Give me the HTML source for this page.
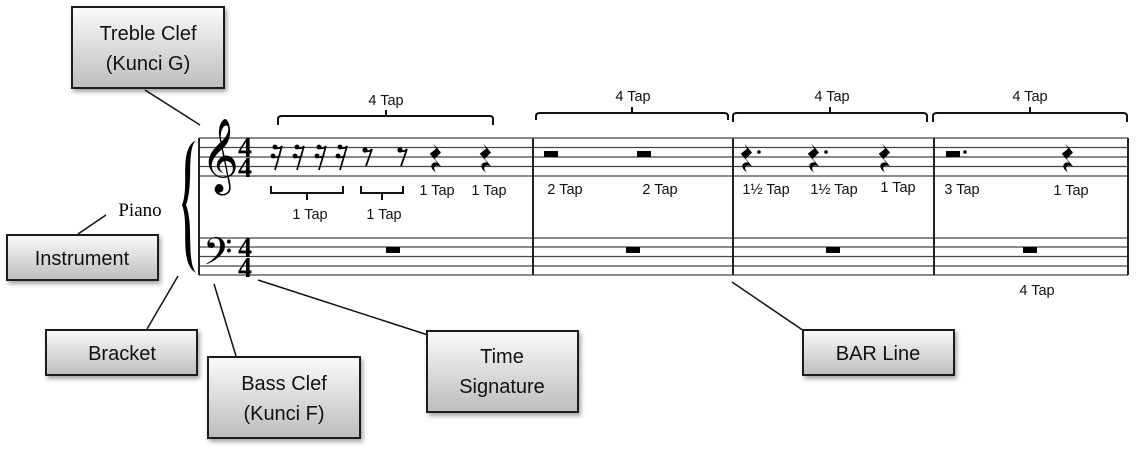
<!DOCTYPE html>
<html><head><meta charset="utf-8"><style>
html,body{margin:0;padding:0;background:#fff;}
svg{display:block;}
.box{fill:url(#g);stroke:#1a1a1a;stroke-width:2;filter:url(#sh);}
.bt{font-family:"Liberation Sans",sans-serif;font-size:20px;fill:#111;text-anchor:middle;}
.t{font-family:"Liberation Sans",sans-serif;font-size:14.5px;fill:#111;text-anchor:middle;}
.st line{stroke:#444;stroke-width:1.3;}
.ln{stroke:#111;stroke-width:1.5;fill:none;}
.br{stroke:#111;stroke-width:2;fill:none;}
</style></head><body>
<svg width="1139" height="452" viewBox="0 0 1139 452">
<defs>
<linearGradient id="g" x1="0" y1="0" x2="0" y2="1"><stop offset="0" stop-color="#fafafa"/><stop offset="1" stop-color="#bdbdbd"/></linearGradient>
<filter id="sh" x="-10%" y="-10%" width="130%" height="140%"><feDropShadow dx="2" dy="3" stdDeviation="2" flood-color="#000" flood-opacity="0.35"/></filter>
<g id="qr"><path d="M2,-9 L8,-2 L3,3 L8,9 C3,7 1,10 4,14 C-2,10 0,5 5,6 L-1,-1 L4,-5 Z" fill="#000"/></g>
<g id="er"><circle cx="0" cy="0" r="2.6" fill="#000"/><path d="M0,1 Q5,2 7,-1 L1,16" stroke="#000" stroke-width="1.8" fill="none"/></g>
<g id="sr"><circle cx="0" cy="-6" r="2.4" fill="#000"/><circle cx="-2" cy="3" r="2.4" fill="#000"/><path d="M0,-5 Q5,-4 7,-7 L0,17 M-2,4 Q3,5 5,2" stroke="#000" stroke-width="1.7" fill="none"/></g>
</defs>

<g class="st">
<line x1="199" y1="138" x2="1128" y2="138"/><line x1="199" y1="147.5" x2="1128" y2="147.5"/><line x1="199" y1="157" x2="1128" y2="157"/><line x1="199" y1="166.5" x2="1128" y2="166.5"/><line x1="199" y1="176" x2="1128" y2="176"/>
<line x1="199" y1="238" x2="1128" y2="238"/><line x1="199" y1="247" x2="1128" y2="247"/><line x1="199" y1="256.5" x2="1128" y2="256.5"/><line x1="199" y1="266" x2="1128" y2="266"/><line x1="199" y1="275" x2="1128" y2="275"/>
</g>
<g stroke="#222" stroke-width="2">
<line x1="199" y1="138" x2="199" y2="275"/><line x1="533" y1="138" x2="533" y2="275"/><line x1="733" y1="138" x2="733" y2="275"/><line x1="934" y1="138" x2="934" y2="275"/><line x1="1128" y1="138" x2="1128" y2="275"/>
</g>
<path d="M196,140 C178,150 190,185 182,205 C190,225 178,262 196,273 C186,260 194,225 186,205 C194,185 186,150 196,140 Z" fill="#000"/>
<text x="140" y="216" font-family="Liberation Serif,serif" font-size="19" text-anchor="middle">Piano</text>
<text x="201" y="177" font-family="DejaVu Sans,serif" font-size="64">𝄞</text>
<text x="203" y="272" font-family="DejaVu Sans,serif" font-size="46">𝄢</text>
<g font-family="Liberation Serif,serif" font-weight="bold" font-size="28" text-anchor="middle">
<text x="245" y="157">4</text><text x="245" y="177">4</text><text x="245" y="257">4</text><text x="245" y="277">4</text>
</g>
<use href="#sr" x="275" y="153"/><use href="#sr" x="297" y="153"/><use href="#sr" x="319" y="153"/><use href="#sr" x="340" y="153"/>
<use href="#er" x="365" y="150"/><use href="#er" x="400" y="150"/>
<use href="#qr" transform="translate(431,155) scale(1.25)"/><use href="#qr" transform="translate(481,155) scale(1.25)"/>
<path class="br" d="M271,186 V193 H343 V186 M307,193 V200 M361,186 V193 H403 V186 M382,193 V200"/>
<text class="t" x="310" y="219">1 Tap</text><text class="t" x="384" y="219">1 Tap</text>
<text class="t" x="437" y="195">1 Tap</text><text class="t" x="489" y="195">1 Tap</text>
<rect x="544" y="151" width="14" height="6" fill="#000"/><rect x="637" y="151" width="14" height="6" fill="#000"/>
<text class="t" x="565" y="194">2 Tap</text><text class="t" x="660" y="194">2 Tap</text>
<use href="#qr" transform="translate(742,155) scale(1.25)"/><circle cx="759" cy="152" r="1.8"/>
<use href="#qr" transform="translate(809,155) scale(1.25)"/><circle cx="826" cy="152" r="1.8"/>
<use href="#qr" transform="translate(880,155) scale(1.25)"/>
<text class="t" x="766" y="194">1½ Tap</text><text class="t" x="834" y="194">1½ Tap</text><text class="t" x="898" y="192">1 Tap</text>
<rect x="946" y="151" width="14" height="6" fill="#000"/><circle cx="965" cy="152" r="1.8"/>
<use href="#qr" transform="translate(1063,155) scale(1.25)"/>
<text class="t" x="962" y="194">3 Tap</text><text class="t" x="1071" y="195">1 Tap</text>
<rect x="386" y="247" width="14" height="6" fill="#000"/><rect x="626" y="247" width="14" height="6" fill="#000"/><rect x="826" y="247" width="14" height="6" fill="#000"/><rect x="1023" y="247" width="14" height="6" fill="#000"/>
<text class="t" x="1037" y="295">4 Tap</text>
<path class="br" d="M278,125 V119 Q278,116 282,116 H490 Q493,116 493,119 V125 M386,116 V110"/>
<text class="t" x="386" y="105">4 Tap</text>
<path class="br" d="M536,120 V116 Q536,113 540,113 H724 Q728,113 728,116 V120 M632,113 V107"/>
<text class="t" x="633" y="101">4 Tap</text>
<path class="br" d="M733,122 V116 Q733,113 737,113 H923 Q927,113 927,116 V122 M830,113 V107"/>
<text class="t" x="832" y="101">4 Tap</text>
<path class="br" d="M933,122 V116 Q933,113 937,113 H1123 Q1127,113 1127,116 V122 M1030,113 V107"/>
<text class="t" x="1030" y="101">4 Tap</text>
<line class="ln" x1="145" y1="90" x2="200" y2="125"/>
<line class="ln" x1="78" y1="234" x2="106" y2="215"/>
<line class="ln" x1="147" y1="329" x2="178" y2="276"/>
<line class="ln" x1="236" y1="356" x2="214" y2="284"/>
<line class="ln" x1="258" y1="280" x2="428" y2="335"/>
<line class="ln" x1="732" y1="282" x2="804" y2="331"/>
<rect class="box" x="72" y="7" width="152" height="81"/>
<text class="bt" x="148" y="40">Treble Clef</text><text class="bt" x="148" y="70">(Kunci G)</text>
<rect class="box" x="7" y="235" width="151" height="45"/>
<text class="bt" x="82" y="265">Instrument</text>
<rect class="box" x="46" y="330" width="151" height="45"/>
<text class="bt" x="122" y="360">Bracket</text>
<rect class="box" x="208" y="357" width="152" height="81"/>
<text class="bt" x="284" y="390">Bass Clef</text><text class="bt" x="284" y="420">(Kunci F)</text>
<rect class="box" x="427" y="331" width="151" height="81"/>
<text class="bt" x="502" y="363">Time</text><text class="bt" x="502" y="393">Signature</text>
<rect class="box" x="803" y="330" width="151" height="45"/>
<text class="bt" x="878" y="360">BAR Line</text>
</svg>
</body></html>
